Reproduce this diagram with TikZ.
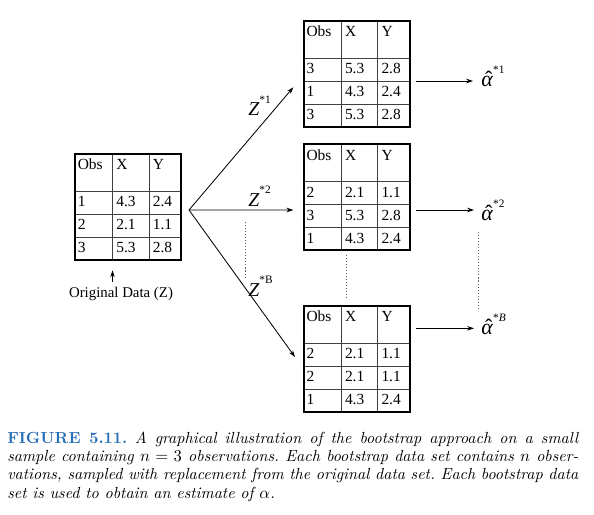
\documentclass[tikz,border=0pt]{standalone}
\usepackage{fontspec}
\usetikzlibrary{arrows.meta,calc}
\newfontfamily\tabfont{Liberation Serif}
\definecolor{capblue}{RGB}{42,112,182}
\newdimen\pxu \pxu=0.66pt
\tikzset{
  tabframe/.style={draw, line width=1.2pt, minimum width=106\pxu, minimum height=106\pxu, anchor=north west, inner sep=0pt},
  tabline/.style={line width=0.55pt, draw=black!75},
  cell/.style={anchor=base west, inner sep=0pt, font=\tabfont\fontsize{10.2}{11}\selectfont},
  conn/.style={line width=0.55pt, -{Stealth[length=4.5pt,width=3pt]}},
  dotv/.style={line width=0.7pt, draw=black!60, dash pattern=on 0.7pt off 1.3pt},
  zlab/.style={anchor=base west, inner sep=0pt, font=\tabfont\fontsize{13}{14}\selectfont},
  alab/.style={anchor=base west, inner sep=0pt, font=\tabfont\fontsize{14.5}{15}\selectfont},
}
\newcommand\supx[1]{\raisebox{0.64em}{\fontsize{7.5}{8}\selectfont #1}}
\newcommand\ahat[1]{\makebox[0pt][l]{\hspace{0.17em}ˆ}\textit{α}\raisebox{0.62em}{\fontsize{7.5}{8}\selectfont #1}}
\newcommand\bstab[6]{%
  \node[tabframe] (#1) at (#2,#3) {};
  \begin{scope}[shift={(#2,#3)}]
    \draw[tabline] (38.5,0) -- (38.5,106) (75,0) -- (75,106)
      (0,38) -- (106,38) (0,61) -- (106,61) (0,84) -- (106,84);
    \node[cell] (#1h1) at (3.5,17) {Obs};
    \node[cell] (#1h2) at (42,17) {X};
    \node[cell] (#1h3) at (78.5,17) {Y};
    \foreach \a/\b/\c [count=\i] in {#4,#5,#6} {
      \node[cell] (#1r\i a) at (3.5,{31+23*\i}) {\a};
      \node[cell] (#1r\i b) at (42,{31+23*\i}) {\b};
      \node[cell] (#1r\i c) at (78.5,{31+23*\i}) {\c};
    }
  \end{scope}
  \node[tabframe] at (#2,#3) {};
}
\begin{document}
\begin{tikzpicture}[x=0.66pt,y=-0.66pt]
\useasboundingbox (0,0) rectangle (594,515);
% tables
\bstab{T0}{74}{153}{1/4.3/2.4}{2/2.1/1.1}{3/5.3/2.8}
\bstab{T1}{302.7}{20}{3/5.3/2.8}{1/4.3/2.4}{3/5.3/2.8}
\bstab{T2}{302.7}{143.3}{2/2.1/1.1}{3/5.3/2.8}{1/4.3/2.4}
\bstab{T3}{302.7}{305}{2/2.1/1.1}{2/2.1/1.1}{1/4.3/2.4}
% original data label
\node[anchor=base, inner sep=0pt, font=\tabfont\fontsize{9.8}{11}\selectfont] (orig) at (121,298) {Original Data (Z)};
\draw[conn] ($(T0.south west)+(38.5,21)$) -- ($(T0.south west)+(38.5,9.5)$);
% fan
\coordinate (fan) at (189,210);
\draw[conn] (fan) -- ($(T1.north west)+(-9.4,67.3)$);
\draw[conn] (fan) -- ($(T2.north west)+(-9.4,66.7)$);
\draw[conn] (fan) -- ($(T3.north west)+(-7.7,52)$);
\node[zlab] (z1) at (248,116) {\textit{Z}\supx{*1}};
\node[zlab] (z2) at (248,206.5) {\textit{Z}\supx{*2}};
\node[zlab] (zB) at (248,296.5) {\textit{Z}\supx{*B}};
% alpha labels
\node[alab] (a1) at (481,87) {\ahat{*1}};
\node[alab] (a2) at (481,221) {\ahat{*2}};
\node[alab] (aB) at (481,335) {\ahat{*\textit{B}}};
\draw[conn] ($(T1.north east)+(5,61)$) coordinate (s1) -- ([xshift=-8\pxu]a1.west |- s1);
\draw[conn] ($(T2.north east)+(5,66.7)$) coordinate (s2) -- ([xshift=-7\pxu]a2.west |- s2);
\draw[conn] ($(T3.north east)+(5,23.3)$) coordinate (s3) -- ([xshift=-7\pxu]aB.west |- s3);
% dotted
\draw[dotv] (245.5,222) -- (245.5,277);
\draw[dotv] (346.5,255) -- (346.5,298);
\draw[dotv] (478.5,232) -- (478.5,310);
% caption
\node[anchor=north west, inner sep=0pt, text width=376.9pt, align=justify, font=\fontsize{10.6}{12.1}\selectfont] (cap) at (7,431.3)
{\frenchspacing{\color{capblue}\bfseries FIGURE 5.11.} \itshape A graphical illustration of the bootstrap approach on a small\linebreak
sample containing $n=3$ observations. Each bootstrap data set contains $n$ obser-\linebreak
vations, sampled with replacement from the original data set. Each bootstrap data\linebreak
set is used to obtain an estimate of $\alpha$.};
\end{tikzpicture}
\end{document}
